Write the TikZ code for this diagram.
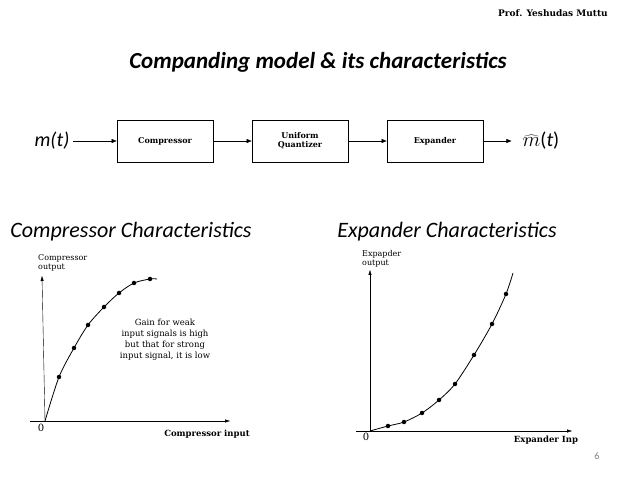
\documentclass[tikz,border=0pt]{standalone}
\usepackage{fontspec}
\setmainfont{DejaVu Serif}
\newfontfamily\carl{Carlito}
\usetikzlibrary{arrows.meta}
\begin{document}
\begin{tikzpicture}[x=1pt,y=-1pt,
  blk/.style={draw,thick,minimum width=96pt,minimum height=42pt,font=\bfseries\fontsize{8}{9}\selectfont,align=center},
  conn/.style={-{Triangle[length=5pt,width=4pt]}},
  axis/.style={-{Triangle[length=5pt,width=3pt]}},
  dot/.style={circle,fill,inner sep=0pt,minimum size=4.5pt},
  lbl/.style={font=\fontsize{8}{9}\selectfont,align=left}]
\useasboundingbox (0,0) rectangle (638,478);
\node (prof) at (553,13) {\bfseries\fontsize{9}{11}\selectfont Prof. Yeshudas Muttu};
\node (title) at (318,62) {\carl\bfseries\itshape\fontsize{23}{26}\selectfont Companding model \& its characteristics};
\node (mt) at (52,141) {\carl\itshape\fontsize{20}{22}\selectfont m(t)};
\node[blk] (c) at (165,141) {Compressor};
\node[blk] (q) at (300,141) {Uniform\\Quantizer};
\node[blk] (e) at (435,141) {Expander};
\node[inner sep=1pt] (mh) at (541,141) {\carl\fontsize{20}{22}\selectfont $\widehat{m}$(\textit{t})};
\draw[conn] (mt) -- (c);
\draw[conn] (c) -- (q);
\draw[conn] (q) -- (e);
\draw[conn] (e.east) -- ++(28,0);
\node (h1) at (131,232) {\carl\itshape\fontsize{22}{24}\selectfont Compressor Characteristics};
\node (h2) at (447,232) {\carl\itshape\fontsize{22}{24}\selectfont Expander Characteristics};
% compressor graph
\coordinate (o1) at (45,421);
\coordinate (y1) at (42,276);
\coordinate (x1l) at (30,421);
\coordinate (x1) at (230,421);
\draw[axis] (o1) -- (y1);
\draw[axis] (x1l) -- (x1);
\draw[thick] plot[smooth] coordinates {(45,421) (59,377) (74,348) (88,325) (104,307) (119,293) (134,283) (150,279) (157,279)};
\foreach \p in {(59,377),(74,348),(88,325),(104,307),(119,293),(134,283),(150,279)} \node[dot] at \p {};
\node[lbl,anchor=north west,inner sep=0pt] (co) at (38,254) {Compressor\\output};
\node[font=\fontsize{8.5}{11}\selectfont,align=center] (gain) at (165,340) {Gain for weak\\input signals is high\\but that for strong\\input signal, it is low};
\node[font=\bfseries\fontsize{8.5}{10}\selectfont] (ci) at (207,434) {Compressor input};
\node[font=\fontsize{10}{11}\selectfont] (z1) at (41,428) {0};
% expander graph
\coordinate (o2) at (370,431);
\coordinate (y2) at (370,270);
\coordinate (x2l) at (356,431);
\coordinate (x2) at (572,431);
\draw[axis] (o2) -- (y2);
\draw[axis] (x2l) -- (x2);
\draw[thick] plot[smooth] coordinates {(370,431) (388,426) (404,422) (422,413) (439,400) (455,384) (474,355) (492,324) (506,294) (513,273)};
\foreach \p in {(388,426),(404,422),(422,413),(439,400),(455,384),(474,355),(492,324),(506,294)} \node[dot] at \p {};
\node[lbl,anchor=north west,inner sep=0pt] (eo) at (362,250) {Expapder\\output};
\node[font=\bfseries\fontsize{8.5}{10}\selectfont] (ei) at (546,440) {Expander Inp};
\node[font=\fontsize{10}{11}\selectfont] (z2) at (366,437) {0};
\node[text=gray,font=\carl\fontsize{10}{11}\selectfont] (pg) at (597,456) {6};
\end{tikzpicture}
\end{document}
